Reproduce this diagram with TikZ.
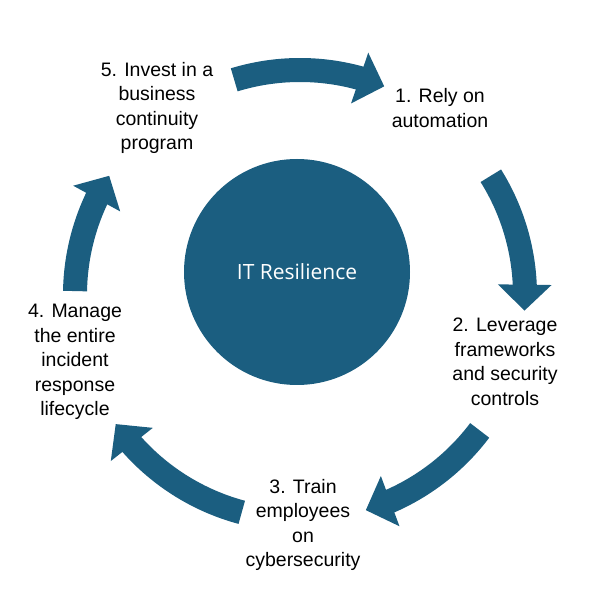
\documentclass[tikz,border=0pt]{standalone}
\usepackage{fontspec}
\setmainfont{Liberation Sans}
\newfontfamily\corefont{Open Sans}
\usetikzlibrary{arrows.meta,bending}
\definecolor{cyteal}{HTML}{1B5E80}
\begin{document}
\begin{tikzpicture}[x=1pt,y=1pt,
  cyc/.style={draw=cyteal,line width=24pt,-{Triangle[length=26pt,width=52pt,flex=1]}},
  lab/.style={align=center,font=\fontsize{19.5}{24.5}\selectfont,text=black}]
\useasboundingbox (0,0) rectangle (605,605);
\fill[white] (0,0) rectangle (605,605);
\coordinate (c) at (300,310);
\node[circle,fill=cyteal,minimum size=226pt,inner sep=0pt,text=white,font=\fontsize{21}{26}\selectfont\corefont] (core) at (297,333) {IT Resilience};
\draw[cyc] ([shift={(107:225)}]c) arc[start angle=107,end angle=68,radius=225] coordinate (a1);
\draw[cyc] ([shift={(32:225)}]c) arc[start angle=32,end angle=-4,radius=225] coordinate (a2);
\draw[cyc] ([shift={(-37:225)}]c) arc[start angle=-37,end angle=-73,radius=225] coordinate (a3);
\draw[cyc] ([shift={(-105:225)}]c) arc[start angle=-105,end angle=-145,radius=225] coordinate (a4);
\draw[cyc] ([shift={(179:225)}]c) arc[start angle=179,end angle=148,radius=225] coordinate (a5);
\node[lab] (t5) at (157,497) {5. Invest in a\\business\\continuity\\program};
\node[lab] (t1) at (440,497) {1. Rely on\\automation};
\node[lab] (t2) at (505,243) {2. Leverage\\frameworks\\and security\\controls};
\node[lab] (t3) at (303,80) {3. Train\\employees\\on\\cybersecurity};
\node[lab] (t4) at (75,243) {4. Manage\\the entire\\incident\\response\\lifecycle};
\end{tikzpicture}
\end{document}
